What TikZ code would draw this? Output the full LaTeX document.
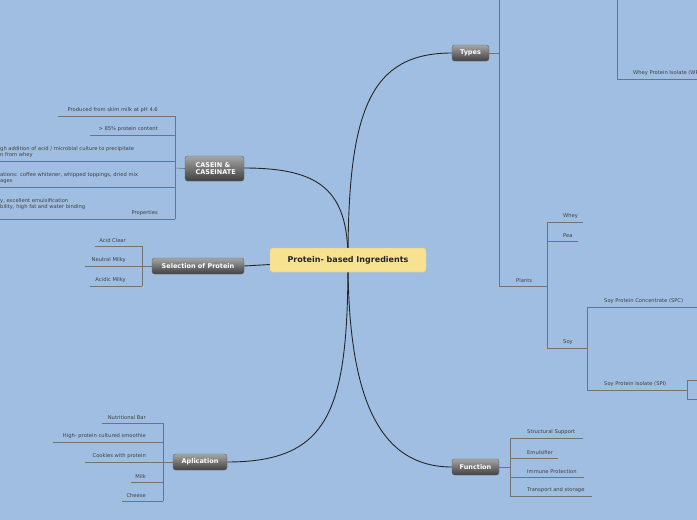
\documentclass[tikz,border=0pt]{standalone}
\usepackage{fontspec}
\setmainfont{DejaVu Sans}
\begin{document}
\begin{tikzpicture}[x=1pt,y=-1pt,
  topic/.style={rounded corners=2.5pt,top color=gray!70,bottom color=black!75,draw=black!60,text=white,font=\bfseries\fontsize{6.5}{7.2}\selectfont,inner sep=0pt,align=left},
  lbl/.style={font=\fontsize{5.2}{6.6}\selectfont,text=black!75,inner sep=0pt,align=left},
  br/.style={draw=black!55,line width=0.6pt},
  main/.style={draw=black!85,line width=0.9pt},
  rootbox/.style={rounded corners=3pt,fill={rgb,255:red,247;green,226;blue,146},draw={rgb,255:red,235;green,210;blue,120},minimum width=156pt,minimum height=24pt,font=\bfseries\fontsize{8}{9}\selectfont,text=black!85}]
\useasboundingbox (0,0) rectangle (697,520);
\clip (0,0) rectangle (697,520);
\fill[fill={rgb,255:red,160;green,190;blue,225}] (0,0) rectangle (697,520);
\coordinate (rc) at (348,260);
\draw[main] (rc) .. controls (348,110) and (370,53) .. (452,53);
\draw[main] (rc) .. controls (348,190) and (320,168) .. (244,168);
\draw[main] (rc) -- (244,266);
\draw[main] (rc) .. controls (348,410) and (330,462) .. (227,462);
\draw[main] (rc) .. controls (348,400) and (380,467) .. (452,467);
\node[rootbox] (root) at (rc) {Protein- based Ingredients};
\node[topic,minimum width=37pt,minimum height=16pt,align=center] (types) at (470.5,53) {Types};
\node[topic,minimum width=59pt,minimum height=25pt] (casein) at (214.5,168.5) {\ CASEIN \&\\\ CASEINATE};
\node[topic,minimum width=92pt,minimum height=16pt,align=center] (sel) at (198,266) {Selection of Protein};
\node[topic,minimum width=54pt,minimum height=16pt,align=center] (app) at (200,462) {Aplication};
\node[topic,minimum width=47pt,minimum height=16pt,align=center] (fun) at (475.5,467) {Function};
% casein
\draw[br] (casein.west) -- (175,168);
\draw[br] (175,116) -- (175,219);
\draw[br] (58,116) -- (175,116); \node[lbl,anchor=south east] at (158,113) {Produced from skim milk at pH 4.6};
\draw[br] (90,135) -- (175,135); \node[lbl,anchor=south east] at (158,132) {> 85\% protein content};
\draw[br] (0,161) -- (175,161); \node[lbl,anchor=north west] at (0,146) {gh addition of acid / microbial culture to precipitate\\n from whey};
\draw[br] (0,187) -- (175,187); \node[lbl,anchor=north west] at (0,172) {ations: coffee whitener, whipped toppings, dried mix\\ages};
\draw[br] (0,219) -- (175,219); \node[lbl,anchor=north west] at (0,198) {y, excellent emulsification\\bility, high fat and water binding};
\node[lbl,anchor=south east] at (158,216) {Properties};
% selection
\draw[br] (sel.west) -- (142,266);
\draw[br] (142,246) -- (142,286);
\draw[br] (95,246) -- (142,246); \node[lbl,anchor=south east] at (126,243) {Acid Clear};
\draw[br] (85,266) -- (142,266); \node[lbl,anchor=south east] at (126,263) {Neutral Milky};
\draw[br] (90,286) -- (142,286); \node[lbl,anchor=south east] at (126,283) {Acidic Milky};
% application
\draw[br] (app.west) -- (163,462);
\draw[br] (163,423) -- (163,501);
\draw[br] (102,423) -- (163,423); \node[lbl,anchor=south east] at (146,420) {Nutritional Bar};
\draw[br] (53,442) -- (163,442); \node[lbl,anchor=south east] at (146,439) {High- protein cultured smoothie};
\draw[br] (85,462) -- (163,462); \node[lbl,anchor=south east] at (146,459) {Cookies with protein};
\draw[br] (131,482) -- (163,482); \node[lbl,anchor=south east] at (146,479) {Milk};
\draw[br] (122,501) -- (163,501); \node[lbl,anchor=south east] at (146,498) {Cheese};
% function
\draw[br] (fun.east) -- (510,467);
\draw[br] (510,438) -- (510,496);
\draw[br] (510,438) -- (583,438); \node[lbl,anchor=south west] at (527,435) {Structural Support};
\draw[br] (510,458) -- (558,458); \node[lbl,anchor=south west] at (527,455) {Emulsifier};
\draw[br] (510,477) -- (584,477); \node[lbl,anchor=south west] at (527,474) {Immune Protection};
\draw[br] (510,496) -- (592,496); \node[lbl,anchor=south west] at (527,493) {Transport and storage};
% types
\draw[br] (types.east) -- (499,53);
\draw[br] (499,0) -- (499,286);
\draw[br] (617,0) -- (617,79) -- (697,79); \node[lbl,anchor=south west] at (633,76) {Whey Protein Isolate (WPI)};
\draw[br] (499,286) -- (547,286); \node[lbl,anchor=south west] at (516,283) {Plants};
\draw[br] (547,222) -- (547,348);
\draw[br] (547,222) -- (583,222); \node[lbl,anchor=south west] at (563,219) {Whey};
\draw[br] (547,241) -- (578,241); \node[lbl,anchor=south west] at (563,238) {Pea};
\draw[br] (547,348) -- (587,348); \node[lbl,anchor=south west] at (563,345) {Soy};
\draw[br] (587,307) -- (587,390);
\draw[br] (587,307) -- (697,307); \node[lbl,anchor=south west] at (604,304) {Soy Protein Concentrate (SPC)};
\draw[br] (587,390) -- (687,390); \node[lbl,anchor=south west] at (604,387) {Soy Protein Isolate (SPI)};
\draw[br] (700,380) -- (687,380) -- (687,399) -- (700,399);
\end{tikzpicture}
\end{document}
